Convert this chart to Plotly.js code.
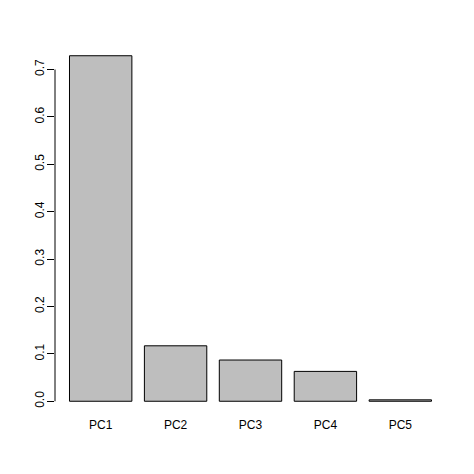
<!DOCTYPE html>
<html>
<head>
<meta charset="utf-8">
<script src="https://cdn.plot.ly/plotly-3.0.1.min.js"></script>
<style>
  html, body { margin: 0; padding: 0; background: #fff; }
  #chart { width: 474px; height: 474px; }
</style>
</head>
<body>
<div id="chart"></div>
<script>
// proportion of variance per component
const components = ['PC1', 'PC2', 'PC3', 'PC4', 'PC5'];
const variance = [0.729, 0.117, 0.087, 0.063, 0.003];
const yTicks = [0, 0.1, 0.2, 0.3, 0.4, 0.5, 0.6, 0.7];

const FONT = 'Liberation Sans, Arial, sans-serif';

const trace = {
  type: 'bar',
  x: components,
  y: variance,
  marker: {
    color: '#bebebe',
    line: { color: '#000', width: 1 }
  },
  hoverinfo: 'none'
};

const layout = {
  width: 474,
  height: 474,
  margin: { l: 55, r: 28, t: 42, b: 59, pad: 0 },
  paper_bgcolor: '#fff',
  plot_bgcolor: '#fff',
  showlegend: false,
  bargap: 0.167,
  font: { family: FONT, size: 12, color: '#000' },
  xaxis: {
    type: 'category',
    range: [-0.61, 4.61],
    showgrid: false,
    zeroline: false,
    showline: false,
    ticks: '',
    ticklabelstandoff: 1,
    tickfont: { family: FONT, size: 12, color: '#000' },
    fixedrange: true
  },
  yaxis: {
    range: [-0.029, 0.758],
    tickvals: yTicks,
    ticktext: yTicks.map(v => v.toFixed(1)),
    tickangle: -90,
    ticks: 'outside',
    ticklen: 7,
    tickwidth: 1,
    tickcolor: '#000',
    ticklabelstandoff: -2,
    showgrid: false,
    zeroline: false,
    showline: false,
    tickfont: { family: FONT, size: 12, color: '#000' },
    fixedrange: true
  },
  // R only draws the axis line between the first and last tick
  shapes: [{
    type: 'line',
    xref: 'paper', yref: 'y',
    x0: 0, x1: 0,
    y0: yTicks[0], y1: yTicks[yTicks.length - 1],
    line: { color: '#000', width: 1 }
  }]
};

Plotly.newPlot('chart', [trace], layout, { displayModeBar: false, staticPlot: true });
</script>
</body>
</html>
